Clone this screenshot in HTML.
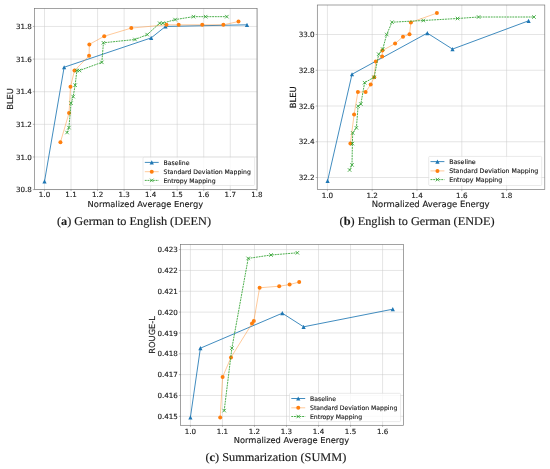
<!DOCTYPE html>
<html lang="en">
<head>
<meta charset="utf-8">
<title>BLEU / ROUGE-L versus normalized average energy</title>
<style>
html,body{margin:0;padding:0;background:#fff;}
body{width:550px;height:469px;overflow:hidden;}
svg{display:block;text-rendering:geometricPrecision;}
svg text{stroke:#1a1a1a;stroke-width:0.14px;}
svg{font-family:"DejaVu Sans","Liberation Sans",sans-serif;}
svg .cap{font-family:"Liberation Serif","DejaVu Serif",serif;}
</style>
</head>
<body>
<svg width="550" height="469" viewBox="0 0 550 469">
<rect width="550" height="469" fill="#fff"/>
<g id="chart-a">
<clipPath id="clip-a"><rect x="34.4" y="8.4" width="222.7" height="181.1"/></clipPath>
<path d="M44.5 8.4V189.5M71.04 8.4V189.5M97.58 8.4V189.5M124.12 8.4V189.5M150.66 8.4V189.5M177.2 8.4V189.5M203.74 8.4V189.5M230.28 8.4V189.5M256.82 8.4V189.5M34.4 189.6H257.1M34.4 156.97H257.1M34.4 124.34H257.1M34.4 91.71H257.1M34.4 59.08H257.1M34.4 26.45H257.1" stroke="#cbcbcb" stroke-width="0.5" fill="none"/>
<g clip-path="url(#clip-a)"><polyline points="44.5,181.44 64.14,67.24 151.19,37.87 165.52,26.45 247,24.82" fill="none" stroke="#1f77b4" stroke-width="0.85" stroke-linejoin="round"/><path d="M44.5 179.34L46.6 183.54L42.4 183.54ZM64.14 65.14L66.24 69.34L62.04 69.34ZM151.19 35.77L153.29 39.97L149.09 39.97ZM165.52 24.35L167.62 28.55L163.42 28.55ZM247 22.72L249.1 26.92L244.9 26.92Z" fill="#1f77b4"/><polyline points="60.42,142.29 69.05,112.92 70.51,86.82 74.49,70.5 89.09,55.82 89.35,44.4 104.22,36.24 131.29,28.08 166.45,24.82 178.66,24.82 202.28,24.82 223.38,24.82 238.51,21.56" fill="none" stroke="#ff7f0e" stroke-opacity="0.7" stroke-width="0.6" stroke-linejoin="round"/><g fill="#ff7f0e"><circle cx="60.42" cy="142.29" r="2.0"/><circle cx="69.05" cy="112.92" r="2.0"/><circle cx="70.51" cy="86.82" r="2.0"/><circle cx="74.49" cy="70.5" r="2.0"/><circle cx="89.09" cy="55.82" r="2.0"/><circle cx="89.35" cy="44.4" r="2.0"/><circle cx="104.22" cy="36.24" r="2.0"/><circle cx="131.29" cy="28.08" r="2.0"/><circle cx="166.45" cy="24.82" r="2.0"/><circle cx="178.66" cy="24.82" r="2.0"/><circle cx="202.28" cy="24.82" r="2.0"/><circle cx="223.38" cy="24.82" r="2.0"/><circle cx="238.51" cy="21.56" r="2.0"/></g><polyline points="67.06,132.5 68.92,127.6 71.04,103.13 73.16,96.6 75.15,85.18 76.88,70.5 79.53,70.5 101.83,62.34 103.42,42.77 135,39.5 147.21,34.61 159.68,23.19 162.87,23.19 175.08,19.6 193.52,16.66 205.6,16.66 226.83,16.66" fill="none" stroke="#2ca02c" stroke-width="0.85" stroke-dasharray="1.9 0.8" stroke-linejoin="round"/><path d="M65.31 130.75L68.81 134.25M65.31 134.25L68.81 130.75M67.17 125.85L70.67 129.35M67.17 129.35L70.67 125.85M69.29 101.38L72.79 104.88M69.29 104.88L72.79 101.38M71.41 94.85L74.91 98.35M71.41 98.35L74.91 94.85M73.4 83.43L76.9 86.93M73.4 86.93L76.9 83.43M75.13 68.75L78.63 72.25M75.13 72.25L78.63 68.75M77.78 68.75L81.28 72.25M77.78 72.25L81.28 68.75M100.08 60.59L103.58 64.09M100.08 64.09L103.58 60.59M101.67 41.02L105.17 44.52M101.67 44.52L105.17 41.02M133.25 37.75L136.75 41.25M133.25 41.25L136.75 37.75M145.46 32.86L148.96 36.36M145.46 36.36L148.96 32.86M157.93 21.44L161.43 24.94M157.93 24.94L161.43 21.44M161.12 21.44L164.62 24.94M161.12 24.94L164.62 21.44M173.33 17.85L176.83 21.35M173.33 21.35L176.83 17.85M191.77 14.91L195.27 18.41M191.77 18.41L195.27 14.91M203.85 14.91L207.35 18.41M203.85 18.41L207.35 14.91M225.08 14.91L228.58 18.41M225.08 18.41L228.58 14.91" fill="none" stroke="#2ca02c" stroke-width="0.8"/></g>
<rect x="34.4" y="8.4" width="222.7" height="181.1" fill="none" stroke="#707070" stroke-width="0.65"/>
<path d="M44.5 189.5v1.6M71.04 189.5v1.6M97.58 189.5v1.6M124.12 189.5v1.6M150.66 189.5v1.6M177.2 189.5v1.6M203.74 189.5v1.6M230.28 189.5v1.6M256.82 189.5v1.6M34.4 189.6h-1.6M34.4 156.97h-1.6M34.4 124.34h-1.6M34.4 91.71h-1.6M34.4 59.08h-1.6M34.4 26.45h-1.6" stroke="#707070" stroke-width="0.5" fill="none"/>
<g font-size="7.15" fill="#1a1a1a"><text x="44.5" y="197.45" text-anchor="middle">1.0</text><text x="71.04" y="197.45" text-anchor="middle">1.1</text><text x="97.58" y="197.45" text-anchor="middle">1.2</text><text x="124.12" y="197.45" text-anchor="middle">1.3</text><text x="150.66" y="197.45" text-anchor="middle">1.4</text><text x="177.2" y="197.45" text-anchor="middle">1.5</text><text x="203.74" y="197.45" text-anchor="middle">1.6</text><text x="230.28" y="197.45" text-anchor="middle">1.7</text><text x="256.82" y="197.45" text-anchor="middle">1.8</text><text x="31.8" y="192.15" text-anchor="end">30.8</text><text x="31.8" y="159.52" text-anchor="end">31.0</text><text x="31.8" y="126.89" text-anchor="end">31.2</text><text x="31.8" y="94.26" text-anchor="end">31.4</text><text x="31.8" y="61.63" text-anchor="end">31.6</text><text x="31.8" y="29" text-anchor="end">31.8</text></g>
<text x="145.35" y="206.7" text-anchor="middle" font-size="8.3" fill="#1a1a1a">Normalized Average Energy</text>
<text transform="translate(13.4 98.95) rotate(-90)" text-anchor="middle" font-size="8.3" fill="#1a1a1a">BLEU</text>
<rect x="143" y="157.2" width="111.6" height="28.3" rx="1" fill="#fff" fill-opacity="0.8" stroke="#d4d4d4" stroke-width="0.5"/>
<path d="M144.8 162.4H158.7" stroke="#1f77b4" stroke-width="0.85"/><path d="M151.75 160.3L153.85 164.5L149.65 164.5Z" fill="#1f77b4"/>
<path d="M144.8 171.7H158.7" stroke="#ff7f0e" stroke-opacity="0.7" stroke-width="0.6"/><circle cx="151.75" cy="171.7" r="2.0" fill="#ff7f0e"/>
<path d="M144.8 180.4H158.7" stroke="#2ca02c" stroke-width="0.85" stroke-dasharray="1.9 0.8"/><path d="M150 178.65L153.5 182.15M150 182.15L153.5 178.65" fill="none" stroke="#2ca02c" stroke-width="0.8"/>
<g font-size="6.13" fill="#1a1a1a"><text x="163.5" y="164.6">Baseline</text><text x="163.5" y="173.9">Standard Deviation Mapping</text><text x="163.5" y="182.6">Entropy Mapping</text></g>
<text class="cap" x="57" y="225" textLength="154" lengthAdjust="spacingAndGlyphs" font-size="11.85" fill="#1a1a1a">(<tspan font-weight="bold">a</tspan>) German to English (DEEN)</text>
</g>
<g id="chart-b">
<clipPath id="clip-b"><rect x="317.3" y="5" width="227.5" height="184.5"/></clipPath>
<path d="M327.4 5V189.5M372.2 5V189.5M417 5V189.5M461.8 5V189.5M506.6 5V189.5M317.3 177.5H544.8M317.3 141.75H544.8M317.3 106H544.8M317.3 70.25H544.8M317.3 34.5H544.8" stroke="#cbcbcb" stroke-width="0.5" fill="none"/>
<g clip-path="url(#clip-b)"><polyline points="327.6,180.8 352,74.25 427.3,33.1 452.5,49.1 528.6,20.8" fill="none" stroke="#1f77b4" stroke-width="0.85" stroke-linejoin="round"/><path d="M327.6 178.7L329.7 182.9L325.5 182.9ZM352 72.15L354.1 76.35L349.9 76.35ZM427.3 31L429.4 35.2L425.2 35.2ZM452.5 47L454.6 51.2L450.4 51.2ZM528.6 18.7L530.7 22.9L526.5 22.9Z" fill="#1f77b4"/><polyline points="350.4,143.6 354.1,114.5 357.9,92 365.6,92 370.7,84.6 374.2,77.2 375.8,61.4 382.2,56.4 382.4,50.5 395.1,43.6 403,36.7 409.5,34.3 410.9,22.4 436.9,13.1" fill="none" stroke="#ff7f0e" stroke-opacity="0.7" stroke-width="0.6" stroke-linejoin="round"/><g fill="#ff7f0e"><circle cx="350.4" cy="143.6" r="2.0"/><circle cx="354.1" cy="114.5" r="2.0"/><circle cx="357.9" cy="92" r="2.0"/><circle cx="365.6" cy="92" r="2.0"/><circle cx="370.7" cy="84.6" r="2.0"/><circle cx="374.2" cy="77.2" r="2.0"/><circle cx="375.8" cy="61.4" r="2.0"/><circle cx="382.2" cy="56.4" r="2.0"/><circle cx="382.4" cy="50.5" r="2.0"/><circle cx="395.1" cy="43.6" r="2.0"/><circle cx="403" cy="36.7" r="2.0"/><circle cx="409.5" cy="34.3" r="2.0"/><circle cx="410.9" cy="22.4" r="2.0"/><circle cx="436.9" cy="13.1" r="2.0"/></g><polyline points="349.6,170 352,164.9 352.4,143.6 352.7,132.9 356.4,127.8 358.1,106.2 360.85,104 364.6,82.7 374.1,77.3 378.7,54.2 382.7,49.1 386.7,34.5 392,22.2 423.3,20.5 457.5,18.5 478.6,17 534,17" fill="none" stroke="#2ca02c" stroke-width="0.85" stroke-dasharray="1.9 0.8" stroke-linejoin="round"/><path d="M347.85 168.25L351.35 171.75M347.85 171.75L351.35 168.25M350.25 163.15L353.75 166.65M350.25 166.65L353.75 163.15M350.65 141.85L354.15 145.35M350.65 145.35L354.15 141.85M350.95 131.15L354.45 134.65M350.95 134.65L354.45 131.15M354.65 126.05L358.15 129.55M354.65 129.55L358.15 126.05M356.35 104.45L359.85 107.95M356.35 107.95L359.85 104.45M359.1 102.25L362.6 105.75M359.1 105.75L362.6 102.25M362.85 80.95L366.35 84.45M362.85 84.45L366.35 80.95M372.35 75.55L375.85 79.05M372.35 79.05L375.85 75.55M376.95 52.45L380.45 55.95M376.95 55.95L380.45 52.45M380.95 47.35L384.45 50.85M380.95 50.85L384.45 47.35M384.95 32.75L388.45 36.25M384.95 36.25L388.45 32.75M390.25 20.45L393.75 23.95M390.25 23.95L393.75 20.45M421.55 18.75L425.05 22.25M421.55 22.25L425.05 18.75M455.75 16.75L459.25 20.25M455.75 20.25L459.25 16.75M476.85 15.25L480.35 18.75M476.85 18.75L480.35 15.25M532.25 15.25L535.75 18.75M532.25 18.75L535.75 15.25" fill="none" stroke="#2ca02c" stroke-width="0.8"/></g>
<rect x="317.3" y="5" width="227.5" height="184.5" fill="none" stroke="#707070" stroke-width="0.65"/>
<path d="M327.4 189.5v1.6M372.2 189.5v1.6M417 189.5v1.6M461.8 189.5v1.6M506.6 189.5v1.6M317.3 177.5h-1.6M317.3 141.75h-1.6M317.3 106h-1.6M317.3 70.25h-1.6M317.3 34.5h-1.6" stroke="#707070" stroke-width="0.5" fill="none"/>
<g font-size="7.21" fill="#1a1a1a"><text x="327.4" y="197.6" text-anchor="middle">1.0</text><text x="372.2" y="197.6" text-anchor="middle">1.2</text><text x="417" y="197.6" text-anchor="middle">1.4</text><text x="461.8" y="197.6" text-anchor="middle">1.6</text><text x="506.6" y="197.6" text-anchor="middle">1.8</text><text x="314.7" y="180.05" text-anchor="end">32.2</text><text x="314.7" y="144.3" text-anchor="end">32.4</text><text x="314.7" y="108.55" text-anchor="end">32.6</text><text x="314.7" y="72.8" text-anchor="end">32.8</text><text x="314.7" y="37.05" text-anchor="end">33.0</text></g>
<text x="430.65" y="206.7" text-anchor="middle" font-size="8.47" fill="#1a1a1a">Normalized Average Energy</text>
<text transform="translate(295.6 97.25) rotate(-90)" text-anchor="middle" font-size="8.47" fill="#1a1a1a">BLEU</text>
<rect x="428.7" y="156.4" width="113" height="29.1" rx="1" fill="#fff" fill-opacity="0.8" stroke="#d4d4d4" stroke-width="0.5"/>
<path d="M430.5 161.6H444.4" stroke="#1f77b4" stroke-width="0.85"/><path d="M437.45 159.5L439.55 163.7L435.35 163.7Z" fill="#1f77b4"/>
<path d="M430.5 170.9H444.4" stroke="#ff7f0e" stroke-opacity="0.7" stroke-width="0.6"/><circle cx="437.45" cy="170.9" r="2.0" fill="#ff7f0e"/>
<path d="M430.5 179.6H444.4" stroke="#2ca02c" stroke-width="0.85" stroke-dasharray="1.9 0.8"/><path d="M435.7 177.85L439.2 181.35M435.7 181.35L439.2 177.85" fill="none" stroke="#2ca02c" stroke-width="0.8"/>
<g font-size="6.25" fill="#1a1a1a"><text x="449.2" y="163.8">Baseline</text><text x="449.2" y="173.1">Standard Deviation Mapping</text><text x="449.2" y="181.8">Entropy Mapping</text></g>
<text class="cap" x="339.6" y="225" textLength="155" lengthAdjust="spacingAndGlyphs" font-size="11.85" fill="#1a1a1a">(<tspan font-weight="bold">b</tspan>) English to German (ENDE)</text>
</g>
<g id="chart-c">
<clipPath id="clip-c"><rect x="180.5" y="244.4" width="222.9" height="180.9"/></clipPath>
<path d="M190.4 244.4V425.3M222.43 244.4V425.3M254.46 244.4V425.3M286.49 244.4V425.3M318.52 244.4V425.3M350.55 244.4V425.3M382.58 244.4V425.3M180.5 416.32H403.4M180.5 395.48H403.4M180.5 374.64H403.4M180.5 353.8H403.4M180.5 332.96H403.4M180.5 312.12H403.4M180.5 291.28H403.4M180.5 270.44H403.4M180.5 249.6H403.4" stroke="#cbcbcb" stroke-width="0.5" fill="none"/>
<g clip-path="url(#clip-c)"><polyline points="190.4,417.4 200.4,348.2 282.3,313.2 303.6,326.8 392.8,309.2" fill="none" stroke="#1f77b4" stroke-width="0.85" stroke-linejoin="round"/><path d="M190.4 415.3L192.5 419.5L188.3 419.5ZM200.4 346.1L202.5 350.3L198.3 350.3ZM282.3 311.1L284.4 315.3L280.2 315.3ZM303.6 324.7L305.7 328.9L301.5 328.9ZM392.8 307.1L394.9 311.3L390.7 311.3Z" fill="#1f77b4"/><polyline points="220.2,417.4 222.6,377 231,357.4 252,323.6 253.8,321 259.6,287.8 279.2,286.2 289.6,284.6 299.2,282" fill="none" stroke="#ff7f0e" stroke-opacity="0.7" stroke-width="0.6" stroke-linejoin="round"/><g fill="#ff7f0e"><circle cx="220.2" cy="417.4" r="2.0"/><circle cx="222.6" cy="377" r="2.0"/><circle cx="231" cy="357.4" r="2.0"/><circle cx="252" cy="323.6" r="2.0"/><circle cx="253.8" cy="321" r="2.0"/><circle cx="259.6" cy="287.8" r="2.0"/><circle cx="279.2" cy="286.2" r="2.0"/><circle cx="289.6" cy="284.6" r="2.0"/><circle cx="299.2" cy="282" r="2.0"/></g><polyline points="224.2,410.6 231.9,348.1 248.2,258.4 271,255 297.4,252.8" fill="none" stroke="#2ca02c" stroke-width="0.85" stroke-dasharray="1.9 0.8" stroke-linejoin="round"/><path d="M222.45 408.85L225.95 412.35M222.45 412.35L225.95 408.85M230.15 346.35L233.65 349.85M230.15 349.85L233.65 346.35M246.45 256.65L249.95 260.15M246.45 260.15L249.95 256.65M269.25 253.25L272.75 256.75M269.25 256.75L272.75 253.25M295.65 251.05L299.15 254.55M295.65 254.55L299.15 251.05" fill="none" stroke="#2ca02c" stroke-width="0.8"/></g>
<rect x="180.5" y="244.4" width="222.9" height="180.9" fill="none" stroke="#707070" stroke-width="0.65"/>
<path d="M190.4 425.3v1.6M222.43 425.3v1.6M254.46 425.3v1.6M286.49 425.3v1.6M318.52 425.3v1.6M350.55 425.3v1.6M382.58 425.3v1.6M180.5 416.32h-1.6M180.5 395.48h-1.6M180.5 374.64h-1.6M180.5 353.8h-1.6M180.5 332.96h-1.6M180.5 312.12h-1.6M180.5 291.28h-1.6M180.5 270.44h-1.6M180.5 249.6h-1.6" stroke="#707070" stroke-width="0.5" fill="none"/>
<g font-size="7.15" fill="#1a1a1a"><text x="190.4" y="433.7" text-anchor="middle">1.0</text><text x="222.43" y="433.7" text-anchor="middle">1.1</text><text x="254.46" y="433.7" text-anchor="middle">1.2</text><text x="286.49" y="433.7" text-anchor="middle">1.3</text><text x="318.52" y="433.7" text-anchor="middle">1.4</text><text x="350.55" y="433.7" text-anchor="middle">1.5</text><text x="382.58" y="433.7" text-anchor="middle">1.6</text><text x="177.9" y="418.87" text-anchor="end">0.415</text><text x="177.9" y="398.03" text-anchor="end">0.416</text><text x="177.9" y="377.19" text-anchor="end">0.417</text><text x="177.9" y="356.35" text-anchor="end">0.418</text><text x="177.9" y="335.51" text-anchor="end">0.419</text><text x="177.9" y="314.67" text-anchor="end">0.420</text><text x="177.9" y="293.83" text-anchor="end">0.421</text><text x="177.9" y="272.99" text-anchor="end">0.422</text><text x="177.9" y="252.15" text-anchor="end">0.423</text></g>
<text x="291.55" y="442.5" text-anchor="middle" font-size="8.3" fill="#1a1a1a">Normalized Average Energy</text>
<text transform="translate(155 334.85) rotate(-90)" text-anchor="middle" font-size="8.3" fill="#1a1a1a">ROUGE-L</text>
<rect x="289.5" y="393.3" width="111.1" height="28.3" rx="1" fill="#fff" fill-opacity="0.8" stroke="#d4d4d4" stroke-width="0.5"/>
<path d="M291.3 398.5H305.2" stroke="#1f77b4" stroke-width="0.85"/><path d="M298.25 396.4L300.35 400.6L296.15 400.6Z" fill="#1f77b4"/>
<path d="M291.3 407.8H305.2" stroke="#ff7f0e" stroke-opacity="0.7" stroke-width="0.6"/><circle cx="298.25" cy="407.8" r="2.0" fill="#ff7f0e"/>
<path d="M291.3 416.5H305.2" stroke="#2ca02c" stroke-width="0.85" stroke-dasharray="1.9 0.8"/><path d="M296.5 414.75L300 418.25M296.5 418.25L300 414.75" fill="none" stroke="#2ca02c" stroke-width="0.8"/>
<g font-size="6.13" fill="#1a1a1a"><text x="310" y="400.7">Baseline</text><text x="310" y="410">Standard Deviation Mapping</text><text x="310" y="418.7">Entropy Mapping</text></g>
<text class="cap" x="205.4" y="461.2" textLength="140.9" lengthAdjust="spacingAndGlyphs" font-size="11.85" fill="#1a1a1a">(<tspan font-weight="bold">c</tspan>) Summarization (SUMM)</text>
</g>
</svg>
</body>
</html>
